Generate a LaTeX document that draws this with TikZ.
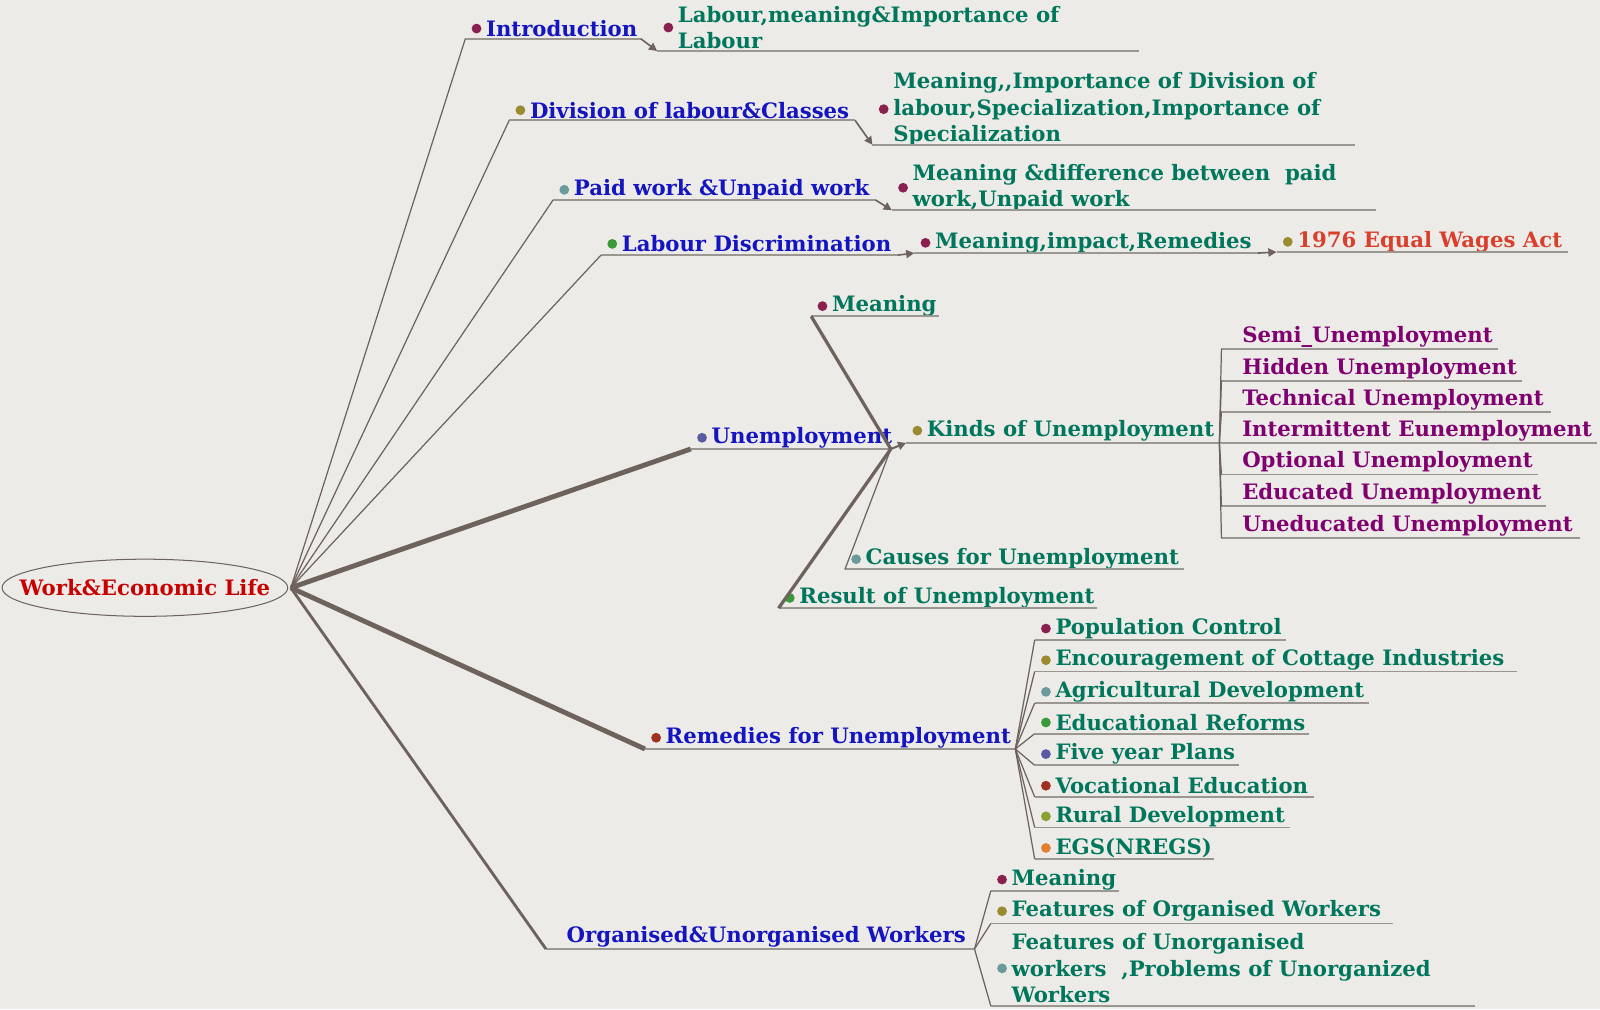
\documentclass[tikz,border=0pt]{standalone}
\usepackage{fontspec}
\setmainfont{DejaVu Serif}
\usetikzlibrary{arrows.meta,shapes.geometric}
\definecolor{bg}{HTML}{EDEBE8}
\definecolor{mblue}{HTML}{1414C0}
\definecolor{mgreen}{HTML}{00775C}
\definecolor{mpurp}{HTML}{800070}
\definecolor{mred}{HTML}{D8402C}
\definecolor{rootred}{HTML}{C80000}
\definecolor{ln}{HTML}{6E625C}
\definecolor{ul}{HTML}{9A9690}
\definecolor{d1}{HTML}{8A2050}
\definecolor{d2}{HTML}{9A8A30}
\definecolor{d3}{HTML}{6A9A9A}
\definecolor{d4}{HTML}{3A9A3A}
\definecolor{d5}{HTML}{5A5AA0}
\definecolor{d6}{HTML}{A03020}
\definecolor{d7}{HTML}{8AA030}
\definecolor{d8}{HTML}{E08030}
\tikzset{
 txt/.style={anchor=west,inner sep=0pt,font=\fontsize{10.4}{13}\selectfont\bfseries,align=left},
 uline/.style={draw=ul,line width=0.9pt},
 thin/.style={draw=ln,line width=0.6pt},
 thk/.style={draw=ln,line width=2.4pt},
 arr/.style={draw=ln,line width=0.8pt,-{Triangle[length=4pt,width=4pt]}},
}
% name, textx, texty, color, dotcolor, text, ulend, uly
\newcommand\leaf[8]{%
 \fill[#5] (#2-9,#3) circle (2.4pt);
 \node[txt,text=#4] (#1) at (#2,#3) {#6};
 \coordinate (#1l) at (#2-20,#8);
 \coordinate (#1r) at (#7,#8);
 \draw[uline] (#1l) -- (#1r);
}
\begin{document}
\begin{tikzpicture}[x=0.5pt,y=-0.5pt]
\fill[bg] (0,0) rectangle (1568,989);
\useasboundingbox (0,0) rectangle (1568,989);
% root
\draw[draw=ln,line width=0.5pt] (142,576) ellipse (140 and 28);
\node[inner sep=0pt,font=\fontsize{10.4}{12}\selectfont\bfseries,text=rootred] (root) at (142,576) {Work\&Economic Life};
\coordinate (rh) at (285,576);
% main nodes
\leaf{intro}{476}{28}{mblue}{d1}{Introduction}{628}{38}
\leaf{intc}{664}{27}{mgreen}{d1}{Labour,meaning\&Importance of\\Labour}{1116}{50}
\leaf{div}{519}{108}{mblue}{d2}{Division of labour\&Classes}{838}{118}
\leaf{divc}{875}{107}{mgreen}{d1}{Meaning,{},Importance of Division of\\labour,Specialization,Importance of\\Specialization}{1328}{142}
\leaf{paid}{562}{186}{mblue}{d3}{Paid work \&Unpaid work}{858}{196}
\leaf{paidc}{894}{184}{mgreen}{d1}{Meaning \&difference between\ \ paid\\work,Unpaid work}{1348}{206}
\leaf{disc}{609}{239}{mblue}{d4}{Labour Discrimination}{880}{250}
\leaf{discc}{916}{238}{mgreen}{d1}{Meaning,impact,Remedies}{1233}{248}
\leaf{act}{1271}{237}{mred}{d2}{1976 Equal Wages Act}{1537}{247}
\leaf{unemp}{697}{429}{mblue}{d5}{Unemployment}{873}{440}
\leaf{umean}{815}{300}{mgreen}{d1}{Meaning}{920}{310}
\leaf{kinds}{908}{422}{mgreen}{d2}{Kinds of Unemployment}{1195}{434}
\leaf{cause}{848}{548}{mgreen}{d3}{Causes for Unemployment}{1160}{558}
\leaf{result}{783}{586}{mgreen}{d4}{Result of Unemployment}{1075}{596}
\leaf{rem}{652}{723}{mblue}{d6}{Remedies for Unemployment}{995}{734}
\leaf{org}{555}{918}{mblue}{bg}{Organised\&Unorganised Workers}{955}{930}
% kinds children
\leaf{k1}{1217}{330}{mpurp}{bg}{Semi\_Unemployment}{1468}{342}
\leaf{k2}{1217}{361}{mpurp}{bg}{Hidden Unemployment}{1492}{373}
\leaf{k3}{1217}{392}{mpurp}{bg}{Technical Unemployment}{1520}{404}
\leaf{k4}{1217}{422}{mpurp}{bg}{Intermittent Eunemployment}{1565}{434}
\leaf{k5}{1217}{453}{mpurp}{bg}{Optional Unemployment}{1507}{465}
\leaf{k6}{1217}{484}{mpurp}{bg}{Educated Unemployment}{1515}{496}
\leaf{k7}{1217}{515}{mpurp}{bg}{Uneducated Unemployment}{1548}{527}
% remedies children
\leaf{r1}{1034}{616}{mgreen}{d1}{Population Control}{1260}{627}
\leaf{r2}{1034}{647}{mgreen}{d2}{Encouragement of Cottage Industries}{1487}{658}
\leaf{r3}{1034}{678}{mgreen}{d3}{Agricultural Development}{1342}{689}
\leaf{r4}{1034}{708}{mgreen}{d4}{Educational Reforms}{1283}{719}
\leaf{r5}{1034}{739}{mgreen}{d5}{Five year Plans}{1214}{750}
\leaf{r6}{1034}{770}{mgreen}{d6}{Vocational Education}{1288}{781}
\leaf{r7}{1034}{800}{mgreen}{d7}{Rural Development}{1264}{811}
\leaf{r8}{1034}{831}{mgreen}{d8}{EGS(NREGS)}{1190}{842}
% organised children
\leaf{o1}{991}{862}{mgreen}{d1}{Meaning}{1097}{873}
\leaf{o2}{991}{893}{mgreen}{d2}{Features of Organised Workers}{1365}{905}
\leaf{o3}{991}{949}{mgreen}{d3}{Features of Unorganised\\workers\ \ ,Problems of Unorganized\\Workers}{1445}{986}
% connectors from root
\foreach \n in {intro,div,paid,disc} \draw[thin] (rh) -- (\n l);
\draw[thk] (rh) -- (unempl);
\draw[thk] (rh) -- (reml);
\draw[draw=ln,line width=1.4pt] (rh) -- (orgl);
% cross connectors
\draw[arr] (intror) -- (intcl);
\draw[arr] (divr) -- (divcl);
\draw[arr] (paidr) -- (paidcl);
\draw[arr] (discr) -- (disccl);
\draw[arr] (disccr) -- (actl);
% unemployment hub
\draw[draw=ln,line width=1.6pt] (unempr) -- (umeanl);
\draw[arr,line width=1pt] (unempr) -- (kindsl);
\draw[thin] (unempr) -- (causel);
\draw[draw=ln,line width=1.6pt] (unempr) -- (resultl);
\foreach \n in {k1,k2,k3,k4,k5,k6,k7} \draw[thin] (kindsr) -- (\n l);
\foreach \n in {r1,r2,r3,r4,r5,r6,r7,r8} \draw[thin] (remr) -- (\n l);
\foreach \n in {o1,o2,o3} \draw[thin] (orgr) -- (\n l);
\end{tikzpicture}
\end{document}
